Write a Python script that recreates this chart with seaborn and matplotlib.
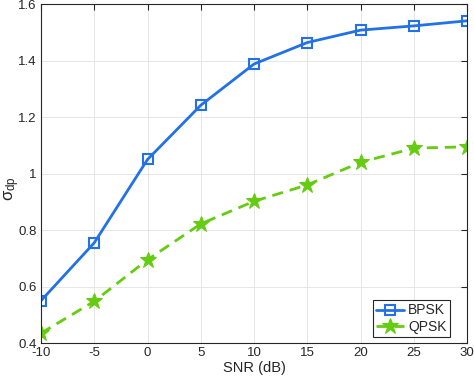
import matplotlib
matplotlib.use("Agg")
import matplotlib.pyplot as plt
import seaborn as sns
import pandas as pd

snr = [-10, -5, 0, 5, 10, 15, 20, 25, 30]
bpsk = [0.55, 0.755, 1.05, 1.242, 1.388, 1.464, 1.508, 1.523, 1.541]
qpsk = [0.435, 0.548, 0.695, 0.822, 0.902, 0.960, 1.040, 1.090, 1.095]
xticks = [-10, -5, 0, 5, 10, 15, 20, 25, 30]
yticks = [0.4, 0.6, 0.8, 1.0, 1.2, 1.4, 1.6]
ytick_labels = ["0.4", "0.6", "0.8", "1", "1.2", "1.4", "1.6"]

sns.set_style("white")
plt.rcParams['font.family'] = ['Liberation Sans', 'DejaVu Sans']
plt.rcParams['mathtext.fontset'] = 'custom'
plt.rcParams['mathtext.rm'] = 'Liberation Sans'
plt.rcParams['mathtext.it'] = 'Liberation Sans:italic'

df = pd.DataFrame({"snr": snr * 2, "val": bpsk + qpsk,
                   "mod": ["BPSK"] * len(snr) + ["QPSK"] * len(snr)})

fig = plt.figure(figsize=(4.74, 3.77), dpi=100)
ax = fig.add_axes([41 / 474, 0.090, 426 / 474, 0.899])

blue = "#2271e6"
green = "#66cc11"
sns.lineplot(data=df[df["mod"] == "BPSK"], x="snr", y="val", ax=ax, color=blue,
             lw=2.0, marker="s", markersize=6.5, markerfacecolor="none",
             markeredgecolor=blue, markeredgewidth=1.5, label="BPSK")
sns.lineplot(data=df[df["mod"] == "QPSK"], x="snr", y="val", ax=ax, color=green,
             lw=2.0, ls=(0, (4, 2.5)), marker="*", markersize=12,
             markerfacecolor=green, markeredgecolor=green, label="QPSK")

ax.set_xlim(-10, 30)
ax.set_ylim(0.4, 1.6)
ax.set_xticks(xticks)
ax.set_xticklabels([str(t) for t in xticks])
ax.set_yticks(yticks)
ax.set_yticklabels(ytick_labels)
ax.grid(True, color="#e6e6e6", lw=0.7)
ax.tick_params(direction="in", length=4, width=0.8, labelsize=9.5, colors="#262626",
               top=True, right=True, pad=3)
for s in ax.spines.values():
    s.set_color("#262626")
    s.set_linewidth(0.8)
ax.set_xlabel("SNR (dB)", fontsize=10.5, labelpad=1)
ax.set_ylabel(r"σ$_{\mathrm{dp}}$", fontsize=12, ha="left", va="center",
              rotation_mode="default")
ax.yaxis.set_label_coords(2 / 474, 0.5, transform=fig.transFigure)

leg = ax.legend(loc="lower right", bbox_to_anchor=(450 / 474, (377 - 337) / 377),
                bbox_transform=fig.transFigure, borderaxespad=0,
                fontsize=10, frameon=True, fancybox=False,
                edgecolor="#262626", framealpha=1, borderpad=0.25,
                handlelength=2.0, handletextpad=0.3, labelspacing=0.15)
leg.get_frame().set_linewidth(0.8)

fig.savefig("out.png", dpi=100)
